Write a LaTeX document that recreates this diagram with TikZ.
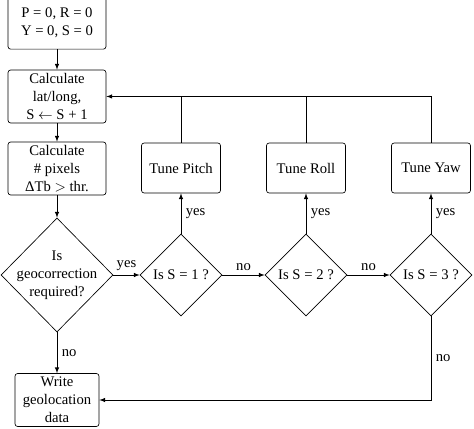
\documentclass[tikz,border=0pt]{standalone}
\usepackage{fontspec}
\setmainfont{Liberation Serif}
\usetikzlibrary{shapes.geometric,positioning}
\tikzstyle{block} = [draw, rectangle, rounded corners=2pt, minimum height=39.75pt, minimum width=73.5pt, align=center, inner sep=1pt]
\tikzstyle{tune} = [block, minimum width=59.25pt, minimum height=37.5pt]
\tikzstyle{decision} = [draw, diamond, aspect=1, inner sep=-4pt, minimum width=61.5pt, minimum height=61.5pt, align=center]

\begin{document}
\begin{tikzpicture}[font=\fontsize{11}{13.5}\selectfont, >=latex, line width=0.5pt]
        \useasboundingbox (0,0) rectangle (355.5pt,-321pt);
        \node[block] (init) at (42.75pt,-17pt) {P = 0, R = 0\\Y = 0, S = 0};
        \node[block] (calc) [below of=init, node distance=55.35pt] {Calculate\\lat/long,\\S $\leftarrow$ S + 1};
        \node[block] (pix) [below of=calc, node distance=54pt] {Calculate\\\# pixels\\ΔTb $>$ thr.};
        \node[decision] (geo) [below of=pix, node distance=79.9pt, minimum width=84pt, minimum height=85.5pt] {Is\\geocorrection\\required?};
        \node[block] (write) [below of=geo, node distance=93.75pt, minimum width=63pt] {Write\\geolocation\\data};
        \node[decision] (s1) [right of=geo, node distance=93pt] {Is S = 1 ?};
        \node[decision] (s2) [right of=s1, node distance=93.75pt] {Is S = 2 ?};
        \node[decision] (s3) [right of=s2, node distance=93.75pt] {Is S = 3 ?};
        \node[tune] (pitch) [above of=s1, node distance=80.25pt] {Tune Pitch};
        \node[tune] (roll) [above of=s2, node distance=80.25pt] {Tune Roll};
        \node[tune] (yaw) [above of=s3, node distance=80.25pt] {Tune Yaw};
        \draw[->] (init) -- (calc);
        \draw[->] (calc) -- (pix);
        \draw[->] (pix) -- (geo);
        \draw[->] (geo) -- node[midway, right] {no} (write);
        \draw[->] (geo) -- node[midway, above] {yes} (s1);
        \draw[->] (s1) -- node[midway, above] {no} (s2);
        \draw[->] (s2) -- node[midway, above] {no} (s3);
        \draw[->] (s1) -- node[midway, right] {yes} (pitch);
        \draw[->] (s2) -- node[midway, right] {yes} (roll);
        \draw[->] (s3) -- node[midway, right] {yes} (yaw);
        \draw[->] (s3.south) |- node[near start, right] {no} (write.east);
        \draw[->] (yaw.north) |- (calc.east);
        \draw (pitch.north) -- (pitch.north |- calc.east);
        \draw (roll.north) -- (roll.north |- calc.east);
    \end{tikzpicture}
\end{document}
